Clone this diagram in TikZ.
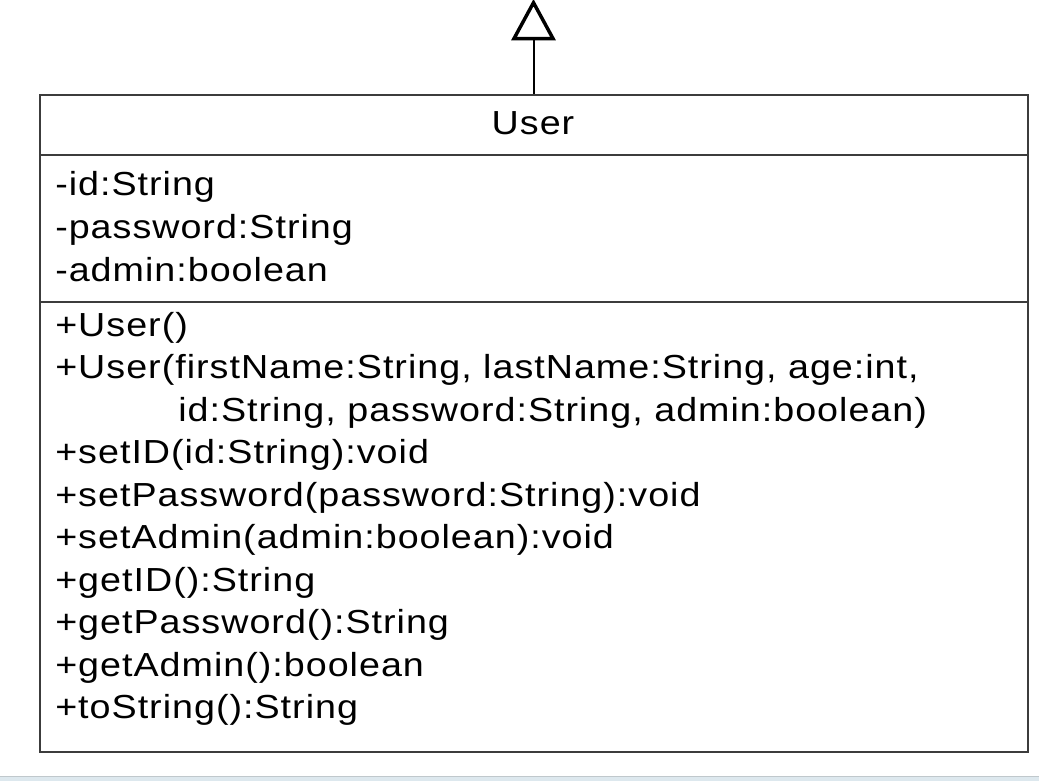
\documentclass[tikz,border=0pt]{standalone}
\usepackage{fontspec}
\setmainfont{Liberation Sans}[FakeStretch=1.13,LetterSpace=3]
\usetikzlibrary{arrows.meta}
\definecolor{stripblue}{RGB}{221,232,238}
\definecolor{stripedge}{RGB}{192,200,204}
\definecolor{boxline}{RGB}{60,60,60}
\begin{document}
\begin{tikzpicture}[x=0.75pt, y=-0.75pt]

\useasboundingbox (0,0) rectangle (1039,781);
\fill[stripblue] (0,776) rectangle (1039,781);
\draw[stripedge, line width=1.2pt] (0,776.5) -- (1039,776.5);

\tikzset{classbox/.style={draw=boxline, line width=1.5pt, minimum width=741pt, minimum height=492.4pt, inner sep=0pt}}
\tikzset{member/.style={anchor=base west, inner sep=0pt, font=\fontsize{25pt}{30pt}\selectfont}}
\node (user) [classbox] at (534,423.75) {};
\node (title) [member, anchor=base] at (533,135) {User};

\node (id) [member] at (55,196) {-id:String};
\node (pw) [member] at (55,238.5) {-password:String};
\node (adm) [member] at (55,281) {-admin:boolean};

\node (m1) [member] at (55,336) {+User()};
\node (m2) [member] at (55,378.5) {+User(firstName:String, lastName:String, age:int,};
\node (m2b) [member] at (178,421) {id:String, password:String, admin:boolean)};
\node (m3) [member] at (55,463.5) {+setID(id:String):void};
\node (m4) [member] at (55,506) {+setPassword(password:String):void};
\node (m5) [member] at (55,548.5) {+setAdmin(admin:boolean):void};
\node (m6) [member] at (55,591) {+getID():String};
\node (m7) [member] at (55,633.5) {+getPassword():String};
\node (m8) [member] at (55,676) {+getAdmin():boolean};
\node (m9) [member] at (55,718.5) {+toString():String};

\coordinate (sep1) at (0,155);
\coordinate (sep2) at (0,302);
\draw[draw=boxline, line width=1.5pt] (user.west |- sep1) -- (user.east |- sep1);
\draw[draw=boxline, line width=1.5pt] (user.west |- sep2) -- (user.east |- sep2);

\coordinate (parent) at (533.5,-1);
\tikzset{inherits/.style={-{Triangle[open, width=33pt, length=31pt, line width=2.6pt]}, line width=1.5pt}}
\draw[inherits] (user.north -| parent) -- (parent);
\end{tikzpicture}
\end{document}
